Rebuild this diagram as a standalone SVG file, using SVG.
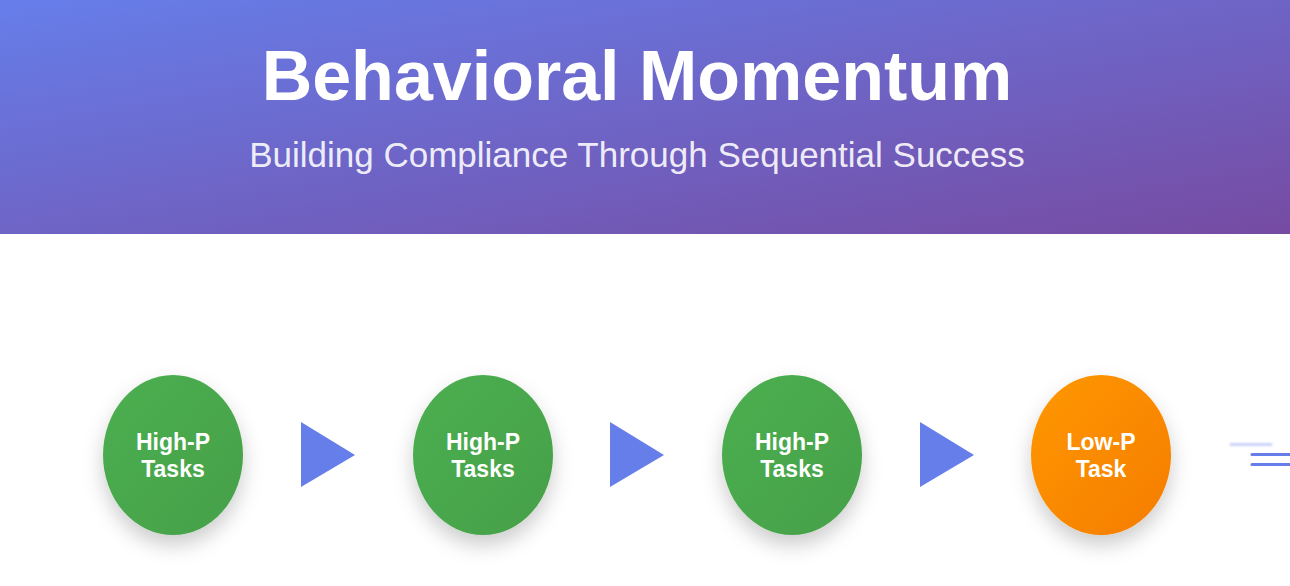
<svg xmlns="http://www.w3.org/2000/svg" width="1290" height="586" viewBox="0 0 1290 586">
  <defs>
    <linearGradient id="hdr" x1="0" y1="0" x2="1" y2="1">
      <stop offset="0" stop-color="#667eea"/>
      <stop offset="1" stop-color="#764ba2"/>
    </linearGradient>
    <linearGradient id="green" x1="0" y1="0" x2="1" y2="1">
      <stop offset="0" stop-color="#4caf50"/>
      <stop offset="1" stop-color="#45a049"/>
    </linearGradient>
    <linearGradient id="orange" x1="0" y1="0" x2="1" y2="1">
      <stop offset="0" stop-color="#ff9800"/>
      <stop offset="1" stop-color="#f57c00"/>
    </linearGradient>
    <filter id="shadow" x="-40%" y="-40%" width="180%" height="180%">
      <feDropShadow dx="0" dy="10" stdDeviation="10" flood-color="#000" flood-opacity="0.2"/>
    </filter>
    <filter id="soft" filterUnits="userSpaceOnUse" x="1220" y="435" width="60" height="20">
      <feGaussianBlur stdDeviation="0.8"/>
    </filter>
  </defs>
  <style>
    .title { font-family: "Liberation Sans", Arial, sans-serif; font-weight: bold; font-size: 70px; fill: #fff; }
    .sub { font-family: "Liberation Sans", Arial, sans-serif; font-size: 35px; fill: #fff; fill-opacity: 0.9; }
    .lbl { font-family: "Liberation Sans", Arial, sans-serif; font-weight: bold; font-size: 23px; fill: #fff; }
    .arrow { fill: #667eea; }
    .speed { stroke: #667eea; stroke-width: 3; stroke-linecap: round; }
  </style>
  <rect x="0" y="0" width="1290" height="586" fill="#fff"/>
  <g id="header">
    <rect x="0" y="0" width="1290" height="234" fill="url(#hdr)"/>
    <text class="title" x="637" y="100" text-anchor="middle">Behavioral Momentum</text>
    <text class="sub" x="637" y="167" text-anchor="middle">Building Compliance Through Sequential Success</text>
  </g>
  <g id="node1">
    <ellipse cx="173" cy="455" rx="70" ry="80" fill="url(#green)" filter="url(#shadow)"/>
    <text class="lbl" x="173" y="450" text-anchor="middle">High-P</text>
    <text class="lbl" x="173" y="477" text-anchor="middle">Tasks</text>
  </g>
  <g id="node2">
    <ellipse cx="483" cy="455" rx="70" ry="80" fill="url(#green)" filter="url(#shadow)"/>
    <text class="lbl" x="483" y="450" text-anchor="middle">High-P</text>
    <text class="lbl" x="483" y="477" text-anchor="middle">Tasks</text>
  </g>
  <g id="node3">
    <ellipse cx="792" cy="455" rx="70" ry="80" fill="url(#green)" filter="url(#shadow)"/>
    <text class="lbl" x="792" y="450" text-anchor="middle">High-P</text>
    <text class="lbl" x="792" y="477" text-anchor="middle">Tasks</text>
  </g>
  <g id="node4">
    <ellipse cx="1101" cy="455" rx="70" ry="80" fill="url(#orange)" filter="url(#shadow)"/>
    <text class="lbl" x="1101" y="450" text-anchor="middle">Low-P</text>
    <text class="lbl" x="1101" y="477" text-anchor="middle">Task</text>
  </g>
  <g id="connectors">
    <polygon class="arrow" points="301,422 355,455 301,487"/>
    <polygon class="arrow" points="610,422 664,455 610,487"/>
    <polygon class="arrow" points="920,422 974,455 920,487"/>
    <line class="speed" x1="1231" y1="444.5" x2="1271" y2="444.5" stroke-opacity="0.35" filter="url(#soft)"/>
    <line class="speed" x1="1252" y1="454.5" x2="1292" y2="454.5"/>
    <line class="speed" x1="1252" y1="464.5" x2="1292" y2="464.5"/>
  </g>
</svg>
